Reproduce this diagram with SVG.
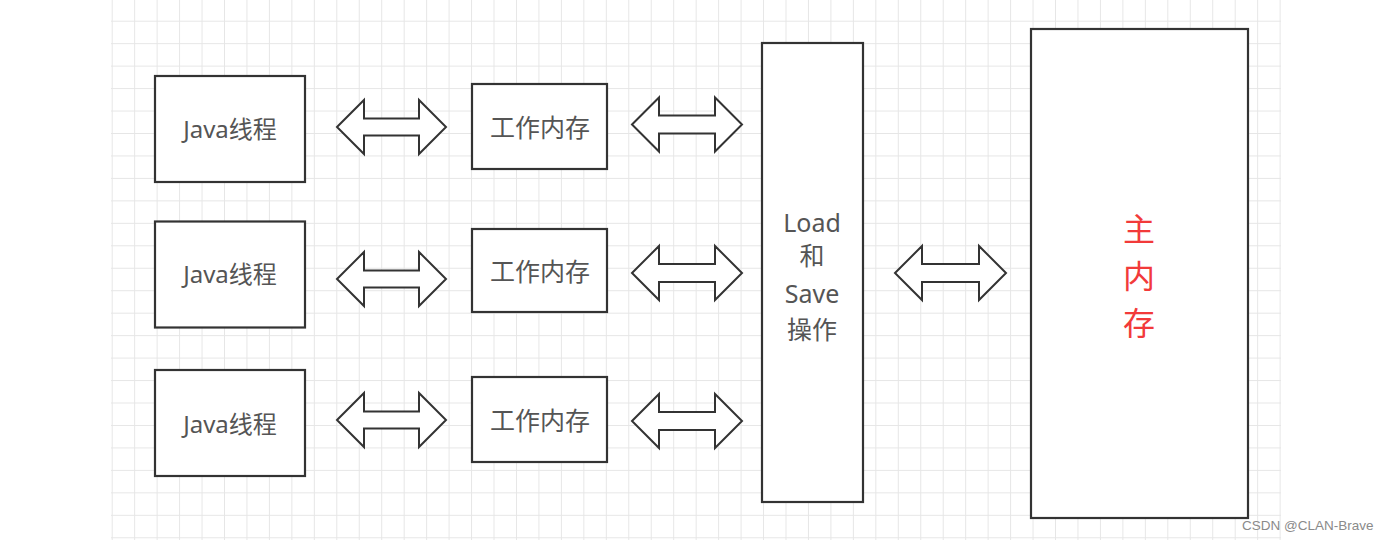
<svg xmlns="http://www.w3.org/2000/svg" width="1399" height="540" viewBox="0 0 1399 540">
<style>
.box{fill:#fff;stroke:#333;stroke-width:2.2}
.arr{fill:#fff;stroke:#333;stroke-width:2;stroke-linejoin:miter}
.t{font-family:"Noto Sans","Noto Sans CJK SC",sans-serif;fill:#555;text-anchor:middle}
.red{font-family:"Noto Sans CJK SC",sans-serif;fill:#f23a3a;text-anchor:middle;font-size:32px}
.wm{font-family:"Liberation Sans",Arial,sans-serif;fill:#8a8a8a;font-size:13.5px}
</style>
<defs>
<pattern id="grid" patternUnits="userSpaceOnUse" x="111.7" y="-1.76" width="22.46" height="22.46">
<path d="M0.5,0 V22.46 M0,0.5 H22.46" stroke="#e6e6e6" stroke-width="1" fill="none"/>
</pattern>
</defs>
<rect x="0" y="0" width="1399" height="540" fill="#fff"/>
<rect x="111" y="0" width="1170" height="540" fill="url(#grid)"/>

<g id="connectors">
<path class="arr" d="M337,127 L364,100 L364,118.5 L419,118.5 L419,100 L446,127 L419,154 L419,135.5 L364,135.5 L364,154 Z"/>
<path class="arr" d="M337,279 L364,252 L364,270.5 L419,270.5 L419,252 L446,279 L419,306 L419,287.5 L364,287.5 L364,306 Z"/>
<path class="arr" d="M337,420 L364,393 L364,411.5 L419,411.5 L419,393 L446,420 L419,447 L419,428.5 L364,428.5 L364,447 Z"/>
<path class="arr" d="M632,124.5 L659,97.5 L659,115.5 L715,115.5 L715,97.5 L742,124.5 L715,151.5 L715,133.5 L659,133.5 L659,151.5 Z"/>
<path class="arr" d="M632,273 L659,246 L659,264 L715,264 L715,246 L742,273 L715,300 L715,282 L659,282 L659,300 Z"/>
<path class="arr" d="M632,421 L659,394 L659,412 L715,412 L715,394 L742,421 L715,448 L715,430 L659,430 L659,448 Z"/>
<path class="arr" d="M895,273 L922,246 L922,264 L979,264 L979,246 L1006,273 L979,300 L979,282 L922,282 L922,300 Z"/>
</g>

<g id="java1"><rect class="box" x="155" y="76" width="150" height="106"/><text class="t" x="230" y="137.5" font-size="24">Java线程</text></g>
<g id="java2"><rect class="box" x="155" y="221.5" width="150" height="106"/><text class="t" x="230" y="282.5" font-size="24">Java线程</text></g>
<g id="java3"><rect class="box" x="155" y="370" width="150" height="106"/><text class="t" x="230" y="432.5" font-size="24">Java线程</text></g>

<g id="work1"><rect class="box" x="472" y="84" width="135" height="85"/><text class="t" x="540" y="137" font-size="25">工作内存</text></g>
<g id="work2"><rect class="box" x="472" y="229" width="135" height="83"/><text class="t" x="540" y="281" font-size="25">工作内存</text></g>
<g id="work3"><rect class="box" x="472" y="377" width="135" height="85"/><text class="t" x="540" y="430" font-size="25">工作内存</text></g>

<g id="loadsave"><rect class="box" x="762" y="43" width="101" height="459"/>
<text class="t" font-size="25"><tspan x="812" y="232">Load</tspan><tspan x="812" y="265">和</tspan><tspan x="812" y="303">Save</tspan><tspan x="812" y="339">操作</tspan></text>
</g>

<g id="mainmem"><rect class="box" x="1031" y="29" width="217" height="489"/>
<text class="red"><tspan x="1139" y="240.5">主</tspan><tspan x="1139" y="287.5">内</tspan><tspan x="1139" y="334.5">存</tspan></text>
</g>

<text class="wm" x="1242" y="530">CSDN @CLAN-Brave</text>
</svg>
